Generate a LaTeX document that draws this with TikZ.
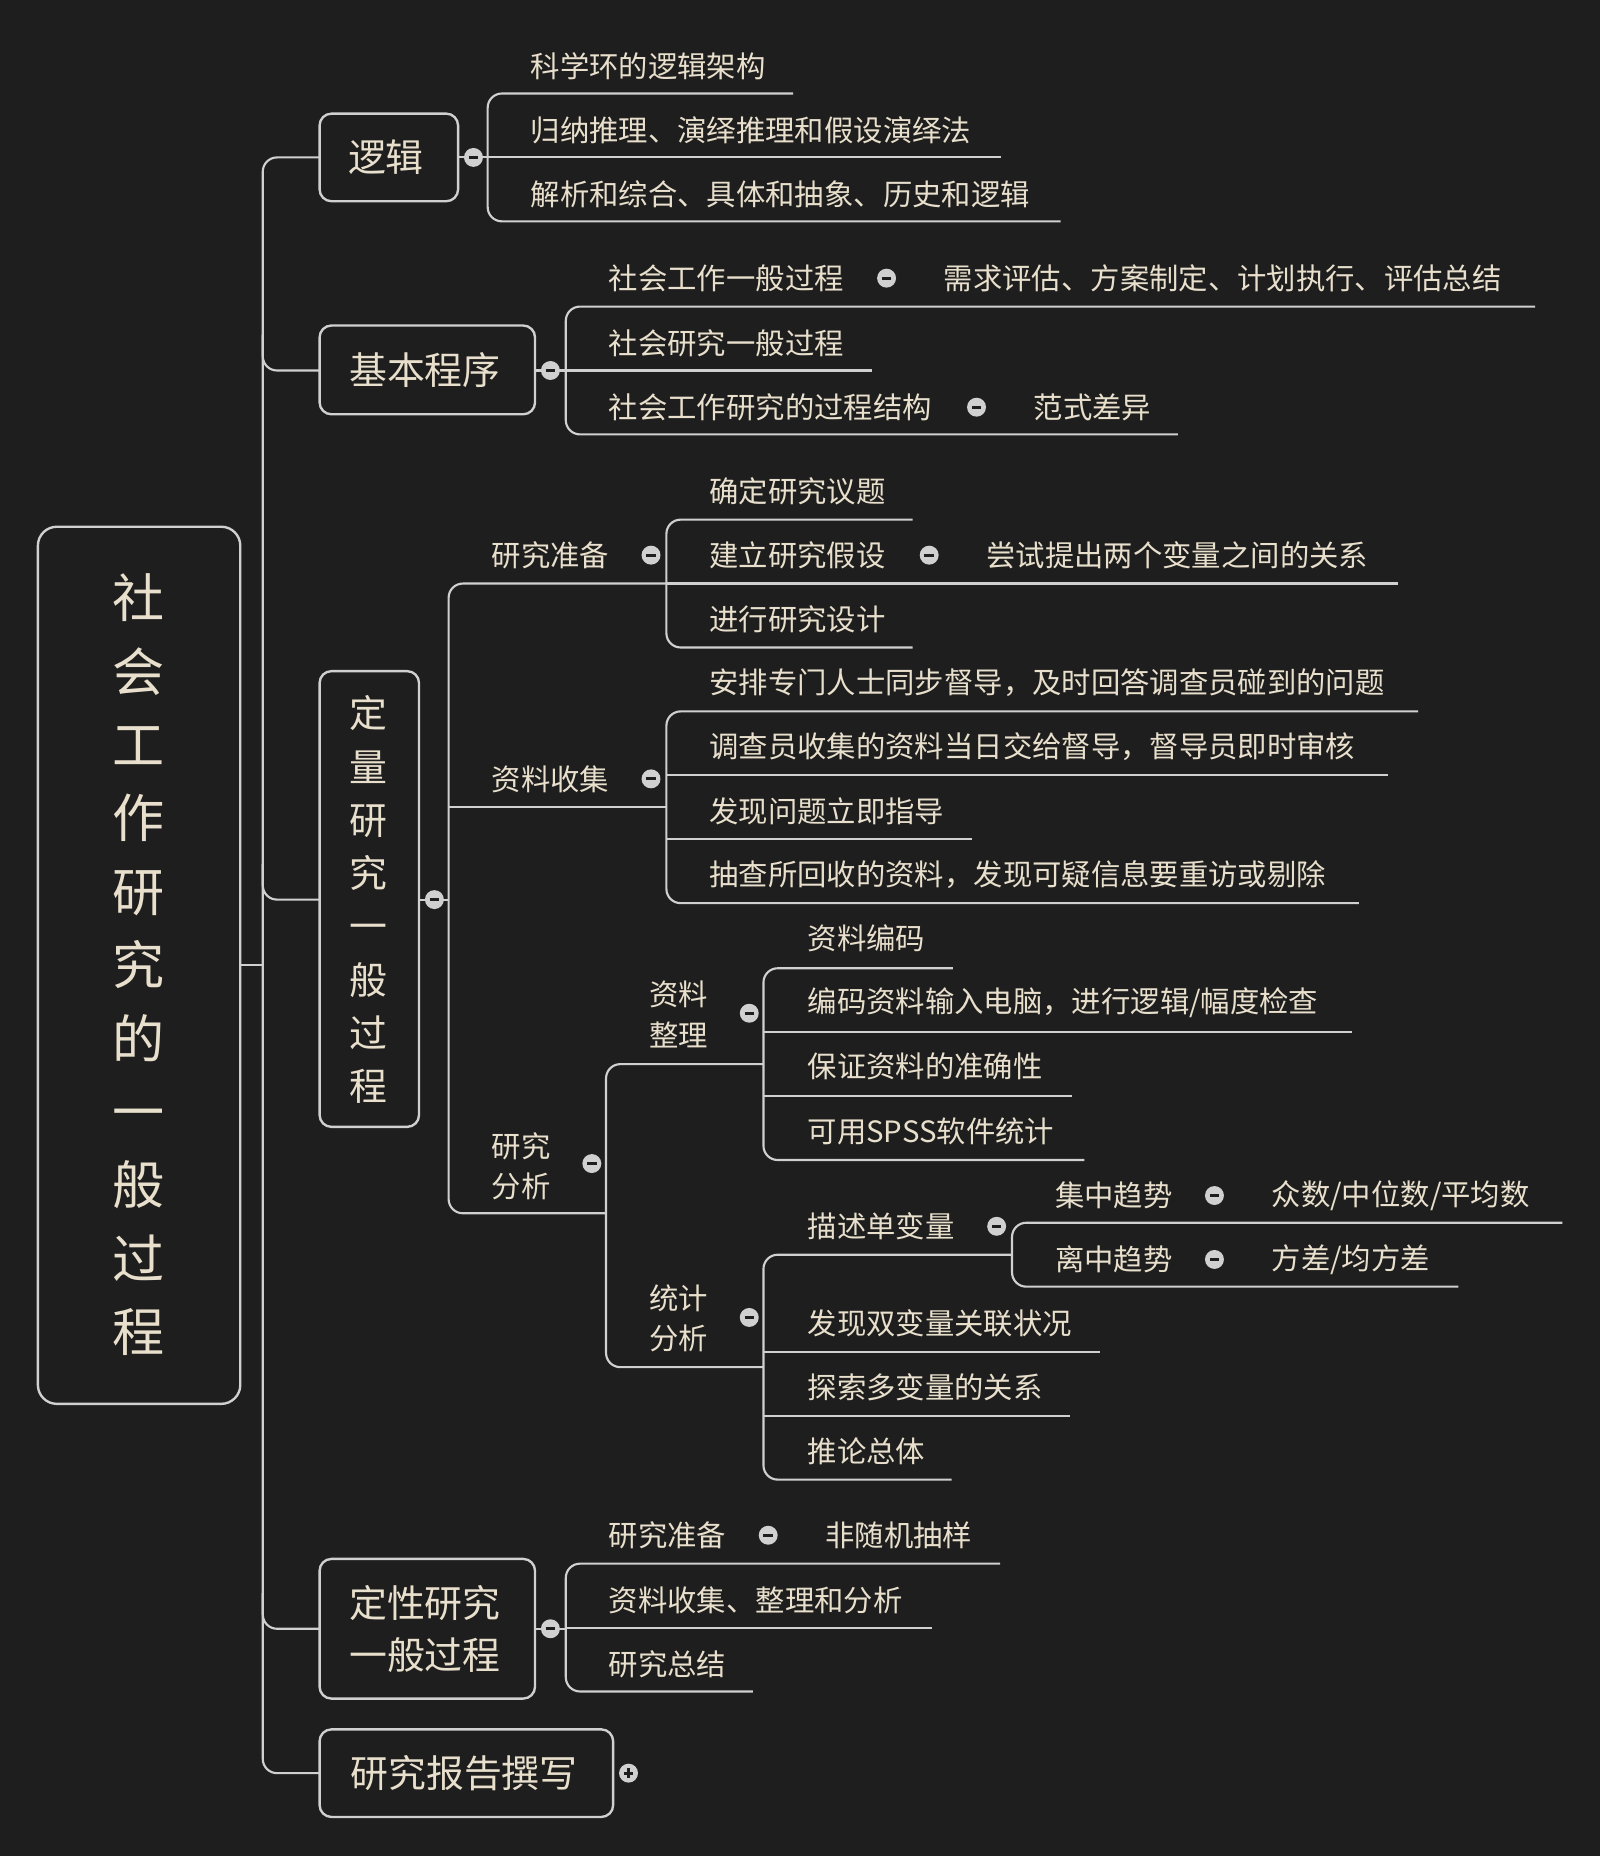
\documentclass[tikz,border=0pt]{standalone}
\usepackage{fontspec}
\newfontfamily\cjk{Noto Sans CJK SC}
\definecolor{bg}{HTML}{1E1E1E}
\definecolor{ln}{HTML}{D0D0D0}
\definecolor{tx}{HTML}{E8DFCC}
\tikzset{
 lf/.style={anchor=west,inner sep=0pt,text=tx,font=\cjk\fontsize{12.4pt}{14pt}\selectfont},
 lf2/.style={anchor=west,inner sep=0pt,text=tx,align=left,font=\cjk\fontsize{12.4pt}{17pt}\selectfont},
 bx/.style={draw=ln,line width=1pt,rounded corners=5pt,text=tx,inner sep=0pt},
 cn/.style={draw=ln,line width=0.9pt,rounded corners=6pt}
}
\newcommand{\mn}[2]{\fill[ln] (#1,#2) circle (8); \draw[bg,line width=1.2pt] (#1-4,#2) -- (#1+4,#2);}
\newcommand{\pl}[2]{\fill[ln] (#1,#2) circle (8); \draw[bg,line width=1.2pt] (#1-4,#2) -- (#1+4,#2) (#1,#2-4) -- (#1,#2+4);}
\begin{document}
\begin{tikzpicture}[x=0.5pt,y=-0.5pt]
\fill[bg] (0,0) rectangle (1352,1568);
\useasboundingbox (0,0) rectangle (1352,1568);
% root
\draw[bx,rounded corners=8pt] (32,445) rectangle (203,1186);
\node[text=tx,align=center,font=\cjk\fontsize{22pt}{31pt}\selectfont] (root) at (117,815) {社\\会\\工\\作\\研\\究\\的\\一\\般\\过\\程};
% trunk
\draw[cn] (203,815) -- (222,815);
\draw[cn] (270,133) -- (222,133) -- (222,1498) -- (270,1498);
\foreach \y in {313,760,1376} \draw[cn] (222,\y-30) -- (222,\y) -- (270,\y);
% level 1 boxes
\draw[bx] (270,96) rectangle (387,170); \node[text=tx,font=\cjk\fontsize{16pt}{18pt}\selectfont] (l1) at (326,133) {逻辑};
\draw[bx] (270,275) rectangle (452,350); \node[text=tx,font=\cjk\fontsize{16pt}{18pt}\selectfont] (l2) at (359,313) {基本程序};
\draw[bx] (270,567) rectangle (354,952); \node[text=tx,align=center,font=\cjk\fontsize{16pt}{22.5pt}\selectfont] (l3) at (311,760) {定\\量\\研\\究\\一\\般\\过\\程};
\draw[bx] (270,1317) rectangle (452,1435); \node[text=tx,align=left,font=\cjk\fontsize{16pt}{22pt}\selectfont] (l4) at (359,1376) {定性研究\\一般过程};
\draw[bx] (270,1461) rectangle (518,1535); \node[text=tx,font=\cjk\fontsize{16pt}{18pt}\selectfont] (l5) at (392,1498) {研究报告撰写};
% 逻辑
\draw[cn] (387,133) -- (412,133);
\draw[cn] (670,79) -- (412,79) -- (412,187) -- (896,187);
\draw[cn] (412,133) -- (846,133);
\node[lf] at (448,56) {科学环的逻辑架构};
\node[lf] at (448,110) {归纳推理、演绎推理和假设演绎法};
\node[lf] at (448,164) {解析和综合、具体和抽象、历史和逻辑};
\mn{400}{133}
% 基本程序
\draw[cn] (452,313) -- (478,313);
\draw[cn] (1297,259) -- (478,259) -- (478,367) -- (995,367);
\draw[cn] (478,313) -- (737,313);
\node[lf] at (514,235) {社会工作一般过程};
\node[lf] at (797,235) {需求评估、方案制定、计划执行、评估总结};
\node[lf] at (514,290) {社会研究一般过程};
\node[lf] at (514,344) {社会工作研究的过程结构};
\node[lf] at (873,344) {范式差异};
\mn{749}{235}\mn{825}{344}\mn{465}{313}
% 定量
\draw[cn] (354,760) -- (379,760);
\draw[cn] (563,493) -- (379,493) -- (379,1025) -- (512,1025);
\draw[cn] (379,682) -- (563,682);
\node[lf] at (415,469) {研究准备};
\node[lf] at (415,658) {资料收集};
\node[lf2] at (415,985) {研究\\分析};
% 研究准备
\draw[cn] (771,439) -- (563,439) -- (563,547) -- (771,547);
\draw[cn] (563,493) -- (1181,493);
\node[lf] at (599,415) {确定研究议题};
\node[lf] at (599,469) {建立研究假设};
\node[lf] at (833,469) {尝试提出两个变量之间的关系};
\node[lf] at (599,523) {进行研究设计};
\mn{550}{469}\mn{785}{469}
% 资料收集
\draw[cn] (1198,601) -- (563,601) -- (563,763) -- (1148,763);
\draw[cn] (563,655) -- (1173,655);
\draw[cn] (563,709) -- (821,709);
\node[lf] at (599,577) {安排专门人士同步督导，及时回答调查员碰到的问题};
\node[lf] at (599,631) {调查员收集的资料当日交给督导，督导员即时审核};
\node[lf] at (599,685) {发现问题立即指导};
\node[lf] at (599,739) {抽查所回收的资料，发现可疑信息要重访或剔除};
\mn{550}{658}
% 研究分析
\draw[cn] (645,899) -- (512,899) -- (512,1155) -- (645,1155);
\node[lf2] at (548,857) {资料\\整理};
\node[lf2] at (548,1114) {统计\\分析};
\mn{500}{983}
% 资料整理
\draw[cn] (805,818) -- (645,818) -- (645,980) -- (916,980);
\draw[cn] (645,872) -- (1142,872);
\draw[cn] (645,926) -- (906,926);
\node[lf] at (682,793) {资料编码};
\node[lf] at (682,847) {编码资料输入电脑，进行逻辑/幅度检查};
\node[lf] at (682,901) {保证资料的准确性};
\node[lf] at (682,956) {可用SPSS软件统计};
\mn{633}{856}
% 统计分析
\draw[cn] (855,1060) -- (645,1060) -- (645,1250) -- (804,1250);
\draw[cn] (645,1142) -- (929,1142);
\draw[cn] (645,1196) -- (904,1196);
\node[lf] at (682,1036) {描述单变量};
\node[lf] at (682,1118) {发现双变量关联状况};
\node[lf] at (682,1172) {探索多变量的关系};
\node[lf] at (682,1226) {推论总体};
\mn{633}{1113}\mn{842}{1036}
\draw[cn] (1320,1033) -- (855,1033) -- (855,1087) -- (1232,1087);
\node[lf] at (891,1010) {集中趋势};
\node[lf] at (891,1064) {离中趋势};
\node[lf] at (1074,1010) {众数/中位数/平均数};
\node[lf] at (1074,1064) {方差/均方差};
\mn{1026}{1010}\mn{1026}{1064}
\mn{367}{760}
% 定性
\draw[cn] (452,1376) -- (478,1376);
\draw[cn] (845,1321) -- (478,1321) -- (478,1429) -- (636,1429);
\draw[cn] (478,1375) -- (787,1375);
\node[lf] at (514,1297) {研究准备};
\node[lf] at (697,1297) {非随机抽样};
\node[lf] at (514,1352) {资料收集、整理和分析};
\node[lf] at (514,1406) {研究总结};
\mn{649}{1297}\mn{465}{1376}
\pl{531}{1498}
\end{tikzpicture}
\end{document}
